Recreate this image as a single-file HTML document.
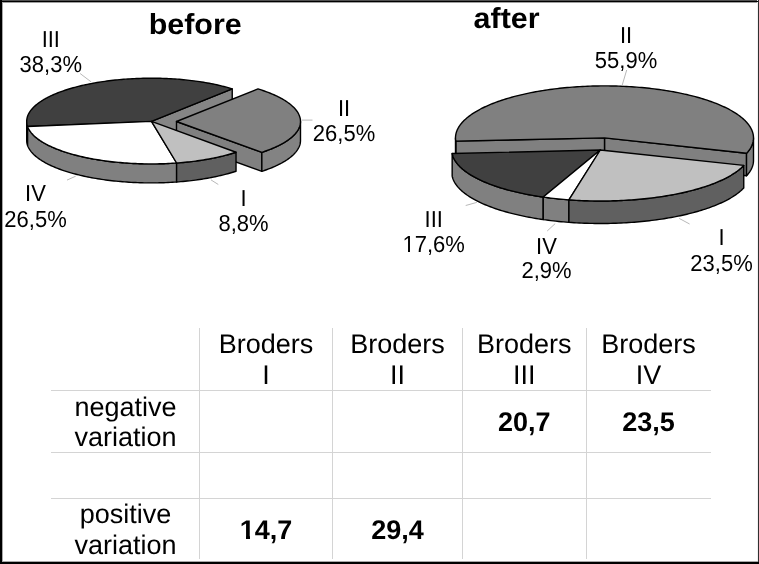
<!DOCTYPE html>
<html><head><meta charset="utf-8"><style>
html,body{margin:0;padding:0;background:#fff;}
body{width:759px;height:564px;overflow:hidden;position:relative;}
svg{position:absolute;left:0;top:0;filter:grayscale(1);}
text{font-family:"Liberation Sans",sans-serif;text-anchor:middle;fill:#000;text-rendering:geometricPrecision;}
.lb{font-size:22px;}
.tt{font-size:29px;font-weight:bold;}
.tb{font-size:27px;}
.tv{font-size:27px;font-weight:bold;}
.bd{position:absolute;background:#000;}
</style></head><body>
<svg width="759" height="564" viewBox="0 0 759 564">
<polygon points="151.50,121.40 232.23,88.85 232.23,107.85 151.50,140.40" fill="#858585" stroke="#000" stroke-width="1.4" stroke-linejoin="round"/>
<polygon points="26.70,121.40 26.73,122.25 26.80,123.11 26.93,123.96 27.10,124.81 27.33,125.66 27.60,126.51 27.60,145.51 27.33,144.66 27.10,143.81 26.93,142.96 26.80,142.11 26.73,141.25 26.70,140.40" fill="#808080" stroke="#000" stroke-width="1.4" stroke-linejoin="round"/>
<polygon points="151.50,121.40 232.23,88.85 230.60,88.36 228.95,87.87 227.27,87.40 225.57,86.94 223.85,86.49 222.11,86.06 220.35,85.63 218.56,85.21 216.76,84.80 214.93,84.41 213.09,84.03 211.22,83.65 209.34,83.29 207.44,82.94 205.52,82.61 203.59,82.28 201.64,81.97 199.68,81.66 197.70,81.37 195.71,81.10 193.70,80.83 191.68,80.58 189.65,80.34 187.61,80.11 185.55,79.89 183.49,79.69 181.42,79.50 179.33,79.32 177.24,79.16 175.14,79.01 173.04,78.87 170.92,78.74 168.80,78.63 166.68,78.53 164.55,78.44 162.42,78.37 160.28,78.31 158.14,78.26 156.00,78.23 153.86,78.21 151.71,78.20 149.54,78.21 147.36,78.22 145.19,78.26 143.01,78.30 140.84,78.36 138.67,78.43 136.51,78.51 134.35,78.61 132.19,78.72 130.04,78.84 127.90,78.98 125.77,79.13 123.64,79.29 121.52,79.47 119.41,79.65 117.31,79.85 115.22,80.07 113.14,80.29 111.08,80.53 109.02,80.78 106.98,81.04 104.95,81.32 102.94,81.60 100.94,81.90 98.95,82.22 96.99,82.54 95.04,82.87 93.10,83.22 91.19,83.58 89.29,83.95 87.41,84.33 85.55,84.72 83.71,85.13 81.89,85.54 80.10,85.97 78.32,86.41 76.57,86.85 74.84,87.31 73.13,87.78 71.45,88.26 69.79,88.75 68.15,89.25 66.55,89.75 64.96,90.27 63.41,90.80 61.88,91.34 60.38,91.88 58.90,92.44 57.46,93.00 56.04,93.57 54.65,94.15 53.29,94.74 51.96,95.34 50.66,95.95 49.39,96.56 48.16,97.18 46.95,97.81 45.78,98.44 44.64,99.09 43.53,99.73 42.45,100.39 41.41,101.05 40.40,101.72 39.43,102.39 38.49,103.07 37.58,103.76 36.71,104.45 35.87,105.15 35.07,105.85 34.30,106.55 33.57,107.26 32.88,107.98 32.22,108.70 31.59,109.42 31.01,110.15 30.46,110.88 29.95,111.61 29.47,112.34 29.03,113.08 28.63,113.82 28.27,114.57 27.95,115.31 27.66,116.06 27.41,116.81 27.19,117.56 27.02,118.31 26.88,119.06 26.78,119.82 26.72,120.57 26.70,121.32 26.72,122.07 26.77,122.81 26.86,123.55 26.99,124.29 27.16,125.03 27.36,125.77 27.60,126.51" fill="#404040" stroke="#000" stroke-width="1.4" stroke-linejoin="round"/>
<polygon points="176.50,121.50 261.86,152.33 261.86,171.33 176.50,140.50" fill="#808080" stroke="#000" stroke-width="1.4" stroke-linejoin="round"/>
<polygon points="261.86,152.33 263.43,151.81 264.98,151.28 266.49,150.74 267.99,150.19 269.45,149.63 270.88,149.06 272.29,148.49 273.66,147.91 275.00,147.31 276.32,146.72 277.60,146.11 278.85,145.49 280.07,144.87 281.26,144.24 282.41,143.60 283.53,142.96 284.62,142.31 285.67,141.65 286.70,140.99 287.68,140.32 288.63,139.64 289.55,138.96 290.43,138.28 291.28,137.59 292.09,136.89 292.86,136.19 293.60,135.48 294.30,134.77 294.96,134.06 295.59,133.34 296.18,132.62 296.74,131.89 297.25,131.16 297.73,130.43 298.17,129.70 298.58,128.96 298.94,128.22 299.27,127.48 299.56,126.74 299.81,125.99 300.02,125.24 300.19,124.50 300.33,123.75 300.42,123.00 300.48,122.25 300.50,121.50 300.50,140.50 300.48,141.25 300.42,142.00 300.33,142.75 300.19,143.50 300.02,144.24 299.81,144.99 299.56,145.74 299.27,146.48 298.94,147.22 298.58,147.96 298.17,148.70 297.73,149.43 297.25,150.16 296.74,150.89 296.18,151.62 295.59,152.34 294.96,153.06 294.30,153.77 293.60,154.48 292.86,155.19 292.09,155.89 291.28,156.59 290.43,157.28 289.55,157.96 288.63,158.64 287.68,159.32 286.70,159.99 285.67,160.65 284.62,161.31 283.53,161.96 282.41,162.60 281.26,163.24 280.07,163.87 278.85,164.49 277.60,165.11 276.32,165.72 275.00,166.31 273.66,166.91 272.29,167.49 270.88,168.06 269.45,168.63 267.99,169.19 266.49,169.74 264.98,170.28 263.43,170.81 261.86,171.33" fill="#838383" stroke="#000" stroke-width="1.4" stroke-linejoin="round"/>
<polygon points="176.50,121.50 261.86,152.33 263.42,151.81 264.96,151.28 266.47,150.75 267.95,150.20 269.40,149.65 270.83,149.09 272.22,148.52 273.59,147.94 274.93,147.35 276.23,146.75 277.51,146.15 278.75,145.54 279.97,144.92 281.15,144.30 282.30,143.67 283.42,143.03 284.50,142.38 285.55,141.73 286.57,141.07 287.55,140.41 288.50,139.74 289.42,139.06 290.30,138.38 291.14,137.69 291.96,137.00 292.73,136.31 293.47,135.61 294.17,134.90 294.84,134.19 295.47,133.48 296.07,132.76 296.62,132.04 297.14,131.32 297.63,130.59 298.07,129.87 298.48,129.13 298.85,128.40 299.19,127.66 299.49,126.93 299.74,126.19 299.96,125.45 300.15,124.70 300.29,123.96 300.40,123.22 300.47,122.47 300.50,121.73 300.49,120.97 300.45,120.22 300.36,119.46 300.24,118.70 300.08,117.95 299.88,117.20 299.65,116.44 299.37,115.69 299.06,114.94 298.71,114.19 298.33,113.45 297.90,112.71 297.44,111.97 296.95,111.23 296.41,110.50 295.84,109.77 295.23,109.04 294.58,108.32 293.90,107.60 293.19,106.88 292.43,106.17 291.64,105.47 290.82,104.77 289.96,104.07 289.07,103.38 288.14,102.70 287.17,102.02 286.18,101.34 285.15,100.68 284.08,100.02 282.98,99.36 281.85,98.72 280.69,98.08 279.50,97.44 278.27,96.82 277.01,96.20 275.73,95.59 274.41,94.99 273.06,94.40 271.68,93.81 270.27,93.23 268.84,92.67 267.37,92.11 265.88,91.56 264.36,91.02 262.81,90.48 261.24,89.96 259.64,89.45 258.01,88.95" fill="#808080" stroke="#000" stroke-width="1.4" stroke-linejoin="round"/>
<polygon points="27.60,126.51 27.89,127.25 28.21,127.99 28.57,128.73 28.97,129.46 29.40,130.20 29.88,130.93 30.39,131.66 30.94,132.38 31.53,133.10 32.15,133.82 32.81,134.54 33.51,135.25 34.24,135.95 35.02,136.65 35.82,137.35 36.67,138.04 37.55,138.73 38.46,139.41 39.41,140.09 40.39,140.76 41.41,141.42 42.46,142.08 43.55,142.73 44.67,143.37 45.82,144.01 47.01,144.64 48.23,145.26 49.48,145.88 50.76,146.49 52.08,147.09 53.42,147.68 54.80,148.26 56.20,148.84 57.64,149.41 59.10,149.97 60.59,150.52 62.11,151.06 63.66,151.59 65.24,152.11 66.84,152.63 68.47,153.13 70.12,153.62 71.80,154.11 73.51,154.58 75.23,155.04 76.99,155.49 78.76,155.94 80.56,156.37 82.38,156.79 84.22,157.20 86.08,157.59 87.97,157.98 89.87,158.36 91.79,158.72 93.73,159.07 95.69,159.41 97.67,159.74 99.66,160.06 101.67,160.36 103.69,160.66 105.73,160.94 107.78,161.21 109.85,161.46 111.93,161.71 114.02,161.94 116.12,162.16 118.24,162.36 120.36,162.56 122.49,162.74 124.64,162.90 126.79,163.06 128.95,163.20 131.11,163.33 133.29,163.44 135.47,163.55 137.65,163.64 139.84,163.71 142.03,163.78 144.22,163.83 146.42,163.86 148.62,163.89 150.81,163.90 152.99,163.90 155.15,163.88 157.31,163.85 159.47,163.81 161.63,163.76 163.79,163.69 165.94,163.61 168.08,163.51 170.23,163.40 172.36,163.28 174.49,163.15 176.61,163.00 176.61,182.00 174.49,182.15 172.36,182.28 170.23,182.40 168.08,182.51 165.94,182.61 163.79,182.69 161.63,182.76 159.47,182.81 157.31,182.85 155.15,182.88 152.99,182.90 150.81,182.90 148.62,182.89 146.42,182.86 144.22,182.83 142.03,182.78 139.84,182.71 137.65,182.64 135.47,182.55 133.29,182.44 131.11,182.33 128.95,182.20 126.79,182.06 124.64,181.90 122.49,181.74 120.36,181.56 118.24,181.36 116.12,181.16 114.02,180.94 111.93,180.71 109.85,180.46 107.78,180.21 105.73,179.94 103.69,179.66 101.67,179.36 99.66,179.06 97.67,178.74 95.69,178.41 93.73,178.07 91.79,177.72 89.87,177.36 87.97,176.98 86.08,176.59 84.22,176.20 82.38,175.79 80.56,175.37 78.76,174.94 76.99,174.49 75.23,174.04 73.51,173.58 71.80,173.11 70.12,172.62 68.47,172.13 66.84,171.63 65.24,171.11 63.66,170.59 62.11,170.06 60.59,169.52 59.10,168.97 57.64,168.41 56.20,167.84 54.80,167.26 53.42,166.68 52.08,166.09 50.76,165.49 49.48,164.88 48.23,164.26 47.01,163.64 45.82,163.01 44.67,162.37 43.55,161.73 42.46,161.08 41.41,160.42 40.39,159.76 39.41,159.09 38.46,158.41 37.55,157.73 36.67,157.04 35.82,156.35 35.02,155.65 34.24,154.95 33.51,154.25 32.81,153.54 32.15,152.82 31.53,152.10 30.94,151.38 30.39,150.66 29.88,149.93 29.40,149.20 28.97,148.46 28.57,147.73 28.21,146.99 27.89,146.25 27.60,145.51" fill="#808080" stroke="#000" stroke-width="1.4" stroke-linejoin="round"/>
<polygon points="151.50,121.40 27.60,126.51 27.89,127.25 28.21,127.99 28.57,128.73 28.97,129.46 29.40,130.20 29.88,130.93 30.39,131.66 30.94,132.38 31.53,133.10 32.15,133.82 32.81,134.54 33.51,135.25 34.24,135.95 35.02,136.65 35.82,137.35 36.67,138.04 37.55,138.73 38.46,139.41 39.41,140.09 40.39,140.76 41.41,141.42 42.46,142.08 43.55,142.73 44.67,143.37 45.82,144.01 47.01,144.64 48.23,145.26 49.48,145.88 50.76,146.49 52.08,147.09 53.42,147.68 54.80,148.26 56.20,148.84 57.64,149.41 59.10,149.97 60.59,150.52 62.11,151.06 63.66,151.59 65.24,152.11 66.84,152.63 68.47,153.13 70.12,153.62 71.80,154.11 73.51,154.58 75.23,155.04 76.99,155.49 78.76,155.94 80.56,156.37 82.38,156.79 84.22,157.20 86.08,157.59 87.97,157.98 89.87,158.36 91.79,158.72 93.73,159.07 95.69,159.41 97.67,159.74 99.66,160.06 101.67,160.36 103.69,160.66 105.73,160.94 107.78,161.21 109.85,161.46 111.93,161.71 114.02,161.94 116.12,162.16 118.24,162.36 120.36,162.56 122.49,162.74 124.64,162.90 126.79,163.06 128.95,163.20 131.11,163.33 133.29,163.44 135.47,163.55 137.65,163.64 139.84,163.71 142.03,163.78 144.22,163.83 146.42,163.86 148.62,163.89 150.81,163.90 152.99,163.90 155.15,163.88 157.31,163.85 159.47,163.81 161.63,163.76 163.79,163.69 165.94,163.61 168.08,163.51 170.23,163.40 172.36,163.28 174.49,163.15 176.61,163.00" fill="#ffffff" stroke="#000" stroke-width="1.4" stroke-linejoin="round"/>
<polygon points="176.61,163.00 178.75,162.84 180.89,162.67 183.01,162.48 185.12,162.28 187.22,162.06 189.32,161.83 191.39,161.59 193.46,161.34 195.51,161.08 197.55,160.80 199.58,160.51 201.59,160.20 203.58,159.89 205.56,159.56 207.51,159.22 209.46,158.87 211.38,158.51 213.28,158.13 215.17,157.74 217.03,157.34 218.87,156.93 220.70,156.51 222.49,156.08 224.27,155.63 226.03,155.18 227.76,154.71 229.46,154.24 231.14,153.75 232.80,153.25 234.43,152.75 236.03,152.23 236.03,171.23 234.43,171.75 232.80,172.25 231.14,172.75 229.46,173.24 227.76,173.71 226.03,174.18 224.27,174.63 222.49,175.08 220.70,175.51 218.87,175.93 217.03,176.34 215.17,176.74 213.28,177.13 211.38,177.51 209.46,177.87 207.51,178.22 205.56,178.56 203.58,178.89 201.59,179.20 199.58,179.51 197.55,179.80 195.51,180.08 193.46,180.34 191.39,180.59 189.32,180.83 187.22,181.06 185.12,181.28 183.01,181.48 180.89,181.67 178.75,181.84 176.61,182.00" fill="#606060" stroke="#000" stroke-width="1.4" stroke-linejoin="round"/>
<polygon points="151.50,121.40 176.61,163.00 178.75,162.84 180.89,162.67 183.01,162.48 185.12,162.28 187.22,162.06 189.32,161.83 191.39,161.59 193.46,161.34 195.51,161.08 197.55,160.80 199.58,160.51 201.59,160.20 203.58,159.89 205.56,159.56 207.51,159.22 209.46,158.87 211.38,158.51 213.28,158.13 215.17,157.74 217.03,157.34 218.87,156.93 220.70,156.51 222.49,156.08 224.27,155.63 226.03,155.18 227.76,154.71 229.46,154.24 231.14,153.75 232.80,153.25 234.43,152.75 236.03,152.23" fill="#c0c0c0" stroke="#000" stroke-width="1.4" stroke-linejoin="round"/>
<polygon points="604.50,137.90 746.53,153.32 746.53,175.82 604.50,160.40" fill="#808080" stroke="#000" stroke-width="1.4" stroke-linejoin="round"/>
<polygon points="604.50,137.90 455.79,141.10 455.79,163.60 604.50,160.40" fill="#808080" stroke="#000" stroke-width="1.4" stroke-linejoin="round"/>
<polygon points="746.53,153.32 747.32,152.44 748.06,151.55 748.76,150.66 749.41,149.77 750.01,148.87 750.57,147.97 751.07,147.07 751.53,146.16 751.95,145.25 752.31,144.33 752.63,143.42 752.89,142.50 753.11,141.58 753.28,140.66 753.40,139.74 753.48,138.82 753.50,137.90 753.50,160.40 753.48,161.32 753.40,162.24 753.28,163.16 753.11,164.08 752.89,165.00 752.63,165.92 752.31,166.83 751.95,167.75 751.53,168.66 751.07,169.57 750.57,170.47 750.01,171.37 749.41,172.27 748.76,173.16 748.06,174.05 747.32,174.94 746.53,175.82" fill="#808080" stroke="#000" stroke-width="1.4" stroke-linejoin="round"/>
<polygon points="455.50,137.90 455.53,138.97 455.63,140.04 455.79,141.10 455.79,163.60 455.63,162.54 455.53,161.47 455.50,160.40" fill="#808080" stroke="#000" stroke-width="1.4" stroke-linejoin="round"/>
<polygon points="604.50,137.90 746.53,153.32 747.29,152.47 748.01,151.61 748.69,150.75 749.32,149.89 749.91,149.02 750.46,148.15 750.96,147.28 751.42,146.40 751.83,145.52 752.19,144.64 752.52,143.75 752.79,142.87 753.02,141.98 753.21,141.09 753.35,140.20 753.44,139.31 753.49,138.42 753.50,137.52 753.45,136.61 753.37,135.70 753.23,134.80 753.06,133.89 752.83,132.99 752.56,132.08 752.25,131.18 751.89,130.28 751.49,129.38 751.04,128.49 750.55,127.60 750.01,126.71 749.42,125.82 748.80,124.94 748.13,124.06 747.41,123.19 746.65,122.32 745.85,121.46 745.01,120.60 744.12,119.74 743.19,118.89 742.22,118.05 741.20,117.21 740.15,116.38 739.05,115.56 737.91,114.74 736.73,113.93 735.51,113.13 734.25,112.34 732.95,111.55 731.61,110.77 730.24,110.00 728.82,109.24 727.37,108.48 725.87,107.74 724.35,107.00 722.78,106.28 721.18,105.56 719.54,104.85 717.87,104.16 716.17,103.47 714.43,102.80 712.65,102.13 710.84,101.48 709.00,100.83 707.13,100.20 705.23,99.58 703.30,98.97 701.33,98.38 699.34,97.79 697.32,97.22 695.27,96.66 693.19,96.12 691.08,95.58 688.95,95.06 686.80,94.55 684.61,94.06 682.41,93.57 680.18,93.11 677.92,92.65 675.65,92.21 673.35,91.78 671.03,91.37 668.69,90.97 666.33,90.59 663.95,90.22 661.56,89.86 659.14,89.52 656.71,89.20 654.27,88.89 651.81,88.59 649.33,88.31 646.84,88.04 644.34,87.79 641.83,87.56 639.30,87.34 636.76,87.13 634.22,86.94 631.66,86.77 629.10,86.61 626.53,86.47 623.95,86.34 621.37,86.23 618.78,86.14 616.18,86.06 613.59,86.00 610.99,85.95 608.39,85.92 605.78,85.90 603.18,85.90 600.58,85.92 597.98,85.95 595.38,86.00 592.78,86.06 590.19,86.14 587.60,86.24 585.01,86.35 582.44,86.47 579.87,86.62 577.30,86.77 574.75,86.95 572.20,87.14 569.67,87.34 567.14,87.56 564.63,87.80 562.12,88.05 559.63,88.31 557.16,88.59 554.70,88.89 552.25,89.20 549.82,89.53 547.41,89.87 545.01,90.22 542.64,90.59 540.28,90.98 537.94,91.38 535.62,91.79 533.32,92.22 531.05,92.66 528.79,93.11 526.56,93.58 524.36,94.06 522.17,94.56 520.02,95.07 517.89,95.59 515.78,96.12 513.70,96.67 511.65,97.23 509.63,97.80 507.64,98.39 505.68,98.98 503.74,99.59 501.84,100.21 499.97,100.84 498.13,101.49 496.32,102.14 494.55,102.81 492.81,103.48 491.10,104.17 489.43,104.86 487.80,105.57 486.20,106.29 484.63,107.01 483.10,107.75 481.61,108.49 480.16,109.25 478.75,110.01 477.37,110.78 476.03,111.56 474.73,112.35 473.47,113.14 472.25,113.94 471.07,114.75 469.94,115.57 468.84,116.40 467.78,117.23 466.77,118.06 465.80,118.91 464.87,119.75 463.98,120.61 463.14,121.47 462.33,122.33 461.58,123.20 460.86,124.07 460.19,124.95 459.57,125.83 458.98,126.72 458.45,127.61 457.95,128.50 457.51,129.40 457.10,130.29 456.74,131.19 456.43,132.09 456.16,133.00 455.94,133.90 455.76,134.81 455.63,135.72 455.54,136.63 455.50,137.53 455.51,138.43 455.56,139.32 455.65,140.21 455.79,141.10" fill="#808080" stroke="#000" stroke-width="1.4" stroke-linejoin="round"/>
<polygon points="452.16,153.56 452.37,154.45 452.62,155.34 452.91,156.23 453.25,157.12 453.64,158.01 454.07,158.89 454.55,159.77 455.07,160.65 455.64,161.52 456.25,162.39 456.91,163.26 457.61,164.12 458.35,164.98 459.14,165.84 459.97,166.68 460.85,167.53 461.76,168.37 462.72,169.20 463.73,170.03 464.77,170.85 465.86,171.66 466.99,172.47 468.16,173.27 469.37,174.06 470.62,174.85 471.91,175.63 473.24,176.40 474.61,177.16 476.02,177.91 477.46,178.66 478.95,179.40 480.47,180.12 482.03,180.84 483.63,181.55 485.26,182.25 486.92,182.94 488.63,183.62 490.36,184.28 492.13,184.94 493.94,185.59 495.77,186.23 497.64,186.85 499.54,187.46 501.47,188.07 503.44,188.66 505.43,189.23 507.45,189.80 509.50,190.35 511.58,190.90 513.68,191.43 515.81,191.94 517.97,192.44 520.15,192.93 522.36,193.41 524.59,193.87 526.85,194.32 529.13,194.76 531.43,195.18 533.75,195.59 536.09,195.99 538.45,196.37 540.83,196.73 543.23,197.08 543.23,219.58 540.83,219.23 538.45,218.87 536.09,218.49 533.75,218.09 531.43,217.68 529.13,217.26 526.85,216.82 524.59,216.37 522.36,215.91 520.15,215.43 517.97,214.94 515.81,214.44 513.68,213.93 511.58,213.40 509.50,212.85 507.45,212.30 505.43,211.73 503.44,211.16 501.47,210.57 499.54,209.96 497.64,209.35 495.77,208.73 493.94,208.09 492.13,207.44 490.36,206.78 488.63,206.12 486.92,205.44 485.26,204.75 483.63,204.05 482.03,203.34 480.47,202.62 478.95,201.90 477.46,201.16 476.02,200.41 474.61,199.66 473.24,198.90 471.91,198.13 470.62,197.35 469.37,196.56 468.16,195.77 466.99,194.97 465.86,194.16 464.77,193.35 463.73,192.53 462.72,191.70 461.76,190.87 460.85,190.03 459.97,189.18 459.14,188.34 458.35,187.48 457.61,186.62 456.91,185.76 456.25,184.89 455.64,184.02 455.07,183.15 454.55,182.27 454.07,181.39 453.64,180.51 453.25,179.62 452.91,178.73 452.62,177.84 452.37,176.95 452.16,176.06" fill="#808080" stroke="#000" stroke-width="1.4" stroke-linejoin="round"/>
<polygon points="600.30,150.00 452.16,153.56 452.37,154.45 452.62,155.34 452.91,156.23 453.25,157.12 453.64,158.01 454.07,158.89 454.55,159.77 455.07,160.65 455.64,161.52 456.25,162.39 456.91,163.26 457.61,164.12 458.35,164.98 459.14,165.84 459.97,166.68 460.85,167.53 461.76,168.37 462.72,169.20 463.73,170.03 464.77,170.85 465.86,171.66 466.99,172.47 468.16,173.27 469.37,174.06 470.62,174.85 471.91,175.63 473.24,176.40 474.61,177.16 476.02,177.91 477.46,178.66 478.95,179.40 480.47,180.12 482.03,180.84 483.63,181.55 485.26,182.25 486.92,182.94 488.63,183.62 490.36,184.28 492.13,184.94 493.94,185.59 495.77,186.23 497.64,186.85 499.54,187.46 501.47,188.07 503.44,188.66 505.43,189.23 507.45,189.80 509.50,190.35 511.58,190.90 513.68,191.43 515.81,191.94 517.97,192.44 520.15,192.93 522.36,193.41 524.59,193.87 526.85,194.32 529.13,194.76 531.43,195.18 533.75,195.59 536.09,195.99 538.45,196.37 540.83,196.73 543.23,197.08" fill="#404040" stroke="#000" stroke-width="1.4" stroke-linejoin="round"/>
<polygon points="543.23,197.08 545.73,197.43 548.25,197.76 550.78,198.08 553.33,198.38 555.89,198.67 558.47,198.94 561.06,199.19 563.67,199.42 566.29,199.64 568.92,199.85 568.92,222.35 566.29,222.14 563.67,221.92 561.06,221.69 558.47,221.44 555.89,221.17 553.33,220.88 550.78,220.58 548.25,220.26 545.73,219.93 543.23,219.58" fill="#808080" stroke="#000" stroke-width="1.4" stroke-linejoin="round"/>
<polygon points="600.30,150.00 543.23,197.08 545.73,197.43 548.25,197.76 550.78,198.08 553.33,198.38 555.89,198.67 558.47,198.94 561.06,199.19 563.67,199.42 566.29,199.64 568.92,199.85" fill="#ffffff" stroke="#000" stroke-width="1.4" stroke-linejoin="round"/>
<polygon points="568.92,199.85 571.47,200.03 574.04,200.20 576.61,200.35 579.19,200.48 581.78,200.60 584.37,200.71 586.97,200.79 589.57,200.87 592.18,200.92 594.78,200.96 597.39,200.99 600.00,201.00 602.65,200.99 605.29,200.97 607.93,200.93 610.57,200.88 613.21,200.81 615.84,200.73 618.47,200.63 621.10,200.51 623.71,200.38 626.32,200.23 628.92,200.07 631.52,199.89 634.10,199.70 636.67,199.49 639.23,199.26 641.78,199.02 644.32,198.77 646.84,198.50 649.35,198.22 651.84,197.92 654.32,197.60 656.78,197.27 659.23,196.93 661.65,196.57 664.06,196.20 666.44,195.81 668.81,195.41 671.15,194.99 673.48,194.57 675.78,194.12 678.05,193.67 680.31,193.20 682.54,192.71 684.74,192.22 686.92,191.71 689.06,191.18 691.19,190.65 693.28,190.10 695.35,189.54 697.38,188.97 699.39,188.39 701.37,187.79 703.31,187.18 705.22,186.56 707.10,185.93 708.95,185.29 710.76,184.64 712.54,183.97 714.29,183.30 716.00,182.62 717.67,181.92 719.31,181.22 720.91,180.50 722.47,179.78 724.00,179.05 725.49,178.31 726.94,177.56 728.35,176.80 729.72,176.03 731.05,175.26 732.34,174.47 733.59,173.68 734.79,172.89 735.96,172.08 737.09,171.27 738.17,170.45 739.21,169.63 740.20,168.80 741.16,167.96 742.07,167.12 742.93,166.27 743.76,165.42 743.76,187.92 742.93,188.77 742.07,189.62 741.16,190.46 740.20,191.30 739.21,192.13 738.17,192.95 737.09,193.77 735.96,194.58 734.79,195.39 733.59,196.18 732.34,196.97 731.05,197.76 729.72,198.53 728.35,199.30 726.94,200.06 725.49,200.81 724.00,201.55 722.47,202.28 720.91,203.00 719.31,203.72 717.67,204.42 716.00,205.12 714.29,205.80 712.54,206.47 710.76,207.14 708.95,207.79 707.10,208.43 705.22,209.06 703.31,209.68 701.37,210.29 699.39,210.89 697.38,211.47 695.35,212.04 693.28,212.60 691.19,213.15 689.06,213.68 686.92,214.21 684.74,214.72 682.54,215.21 680.31,215.70 678.05,216.17 675.78,216.62 673.48,217.07 671.15,217.49 668.81,217.91 666.44,218.31 664.06,218.70 661.65,219.07 659.23,219.43 656.78,219.77 654.32,220.10 651.84,220.42 649.35,220.72 646.84,221.00 644.32,221.27 641.78,221.52 639.23,221.76 636.67,221.99 634.10,222.20 631.52,222.39 628.92,222.57 626.32,222.73 623.71,222.88 621.10,223.01 618.47,223.13 615.84,223.23 613.21,223.31 610.57,223.38 607.93,223.43 605.29,223.47 602.65,223.49 600.00,223.50 597.39,223.49 594.78,223.46 592.18,223.42 589.57,223.37 586.97,223.29 584.37,223.21 581.78,223.10 579.19,222.98 576.61,222.85 574.04,222.70 571.47,222.53 568.92,222.35" fill="#606060" stroke="#000" stroke-width="1.4" stroke-linejoin="round"/>
<polygon points="600.30,150.00 568.92,199.85 571.47,200.03 574.04,200.20 576.61,200.35 579.19,200.48 581.78,200.60 584.37,200.71 586.97,200.79 589.57,200.87 592.18,200.92 594.78,200.96 597.39,200.99 600.00,201.00 602.65,200.99 605.29,200.97 607.93,200.93 610.57,200.88 613.21,200.81 615.84,200.73 618.47,200.63 621.10,200.51 623.71,200.38 626.32,200.23 628.92,200.07 631.52,199.89 634.10,199.70 636.67,199.49 639.23,199.26 641.78,199.02 644.32,198.77 646.84,198.50 649.35,198.22 651.84,197.92 654.32,197.60 656.78,197.27 659.23,196.93 661.65,196.57 664.06,196.20 666.44,195.81 668.81,195.41 671.15,194.99 673.48,194.57 675.78,194.12 678.05,193.67 680.31,193.20 682.54,192.71 684.74,192.22 686.92,191.71 689.06,191.18 691.19,190.65 693.28,190.10 695.35,189.54 697.38,188.97 699.39,188.39 701.37,187.79 703.31,187.18 705.22,186.56 707.10,185.93 708.95,185.29 710.76,184.64 712.54,183.97 714.29,183.30 716.00,182.62 717.67,181.92 719.31,181.22 720.91,180.50 722.47,179.78 724.00,179.05 725.49,178.31 726.94,177.56 728.35,176.80 729.72,176.03 731.05,175.26 732.34,174.47 733.59,173.68 734.79,172.89 735.96,172.08 737.09,171.27 738.17,170.45 739.21,169.63 740.20,168.80 741.16,167.96 742.07,167.12 742.93,166.27 743.76,165.42" fill="#c0c0c0" stroke="#000" stroke-width="1.4" stroke-linejoin="round"/>
<line x1="80.1" y1="73.5" x2="91.3" y2="82.0" stroke="#b8b8b8" stroke-width="1"/>
<line x1="301.6" y1="120.1" x2="312.5" y2="120.1" stroke="#b8b8b8" stroke-width="1"/>
<line x1="67.0" y1="180.1" x2="75.7" y2="176.2" stroke="#b8b8b8" stroke-width="1"/>
<line x1="211.0" y1="179.9" x2="218.3" y2="184.5" stroke="#b8b8b8" stroke-width="1"/>
<line x1="626.7" y1="70.0" x2="622.0" y2="85.8" stroke="#b8b8b8" stroke-width="1"/>
<line x1="465.7" y1="205.5" x2="476.8" y2="202.4" stroke="#b8b8b8" stroke-width="1"/>
<line x1="547.2" y1="231.0" x2="555.2" y2="223.6" stroke="#b8b8b8" stroke-width="1"/>
<line x1="679.2" y1="218.4" x2="689.6" y2="224.0" stroke="#b8b8b8" stroke-width="1"/>
<text transform="translate(50.80,47.20) scale(1.000,1.050)" class="lb">III</text>
<text transform="translate(50.80,72.10) scale(1.000,1.050)" class="lb">38,3%</text>
<text transform="translate(344.00,115.70) scale(1.000,1.050)" class="lb">II</text>
<text transform="translate(344.00,140.80) scale(1.000,1.050)" class="lb">26,5%</text>
<text transform="translate(35.50,201.20) scale(1.000,1.050)" class="lb">IV</text>
<text transform="translate(35.50,226.60) scale(1.000,1.050)" class="lb">26,5%</text>
<text transform="translate(243.50,205.70) scale(1.000,1.050)" class="lb">I</text>
<text transform="translate(243.50,230.80) scale(1.000,1.050)" class="lb">8,8%</text>
<text transform="translate(626.00,42.50) scale(1.000,1.050)" class="lb">II</text>
<text transform="translate(626.00,67.90) scale(1.000,1.050)" class="lb">55,9%</text>
<text transform="translate(433.70,226.50) scale(1.000,1.050)" class="lb">III</text>
<text transform="translate(433.70,251.60) scale(1.000,1.050)" class="lb">17,6%</text>
<text transform="translate(546.50,253.70) scale(1.000,1.050)" class="lb">IV</text>
<text transform="translate(546.50,278.30) scale(1.000,1.050)" class="lb">2,9%</text>
<text transform="translate(721.50,245.20) scale(1.000,1.050)" class="lb">I</text>
<text transform="translate(721.50,270.60) scale(1.000,1.050)" class="lb">23,5%</text>
<text transform="translate(195.20,34.20) scale(1.050,1.000)" class="tt">before</text>
<text transform="translate(506.60,28.30) scale(1.050,1.000)" class="tt">after</text>
<line x1="51" y1="390.5" x2="711" y2="390.5" stroke="#d4d4d4" stroke-width="1"/>
<line x1="51" y1="452.5" x2="711" y2="452.5" stroke="#d4d4d4" stroke-width="1"/>
<line x1="51" y1="498.5" x2="711" y2="498.5" stroke="#d4d4d4" stroke-width="1"/>
<line x1="199.5" y1="328" x2="199.5" y2="559" stroke="#d4d4d4" stroke-width="1"/>
<line x1="332.5" y1="328" x2="332.5" y2="559" stroke="#d4d4d4" stroke-width="1"/>
<line x1="462.5" y1="328" x2="462.5" y2="559" stroke="#d4d4d4" stroke-width="1"/>
<line x1="586.5" y1="328" x2="586.5" y2="559" stroke="#d4d4d4" stroke-width="1"/>
<text x="266.0" y="352.7" class="tb">Broders</text>
<text x="266.0" y="383.5" class="tb">I</text>
<text x="397.5" y="352.7" class="tb">Broders</text>
<text x="397.5" y="383.5" class="tb">II</text>
<text x="524.2" y="352.7" class="tb">Broders</text>
<text x="524.2" y="383.5" class="tb">III</text>
<text x="648.6" y="352.7" class="tb">Broders</text>
<text x="648.6" y="383.5" class="tb">IV</text>
<text x="125.5" y="415.8" class="tb">negative</text>
<text x="125.5" y="446.4" class="tb">variation</text>
<text x="125.5" y="523.3" class="tb">positive</text>
<text x="125.5" y="554.2" class="tb">variation</text>
<text x="524.2" y="431.2" class="tv">20,7</text>
<text x="648.6" y="431.2" class="tv">23,5</text>
<text x="266.0" y="539.1" class="tv">14,7</text>
<text x="397.5" y="539.1" class="tv">29,4</text>
<rect x="240.3" y="535.6" width="5.7" height="3.6" fill="#fff"/>
<rect x="250.0" y="535.6" width="4.3" height="3.6" fill="#fff"/>
<rect x="403.0" y="249.9" width="5.0" height="2.6" fill="#fff"/>
<rect x="410.0" y="249.9" width="4.4" height="2.6" fill="#fff"/>
</svg>
<div class="bd" style="left:0;top:0;width:759px;height:1px;background:#505050"></div>
<div class="bd" style="left:0;top:2px;width:759px;height:1px;background:#a0a0a0"></div>
<div class="bd" style="left:2px;top:2px;width:1px;height:560px;background:#a8a8a8"></div>
<div class="bd" style="left:757px;top:0;width:1px;height:564px;background:#f0f0f0"></div>
<div class="bd" style="left:0;top:561px;width:759px;height:1px;background:#a8a8a8"></div>
<div class="bd" style="left:0;top:1px;width:759px;height:1px"></div>
<div class="bd" style="left:0;top:0;width:2px;height:564px"></div>
<div class="bd" style="left:758px;top:0;width:1px;height:564px;background:#303030"></div>
<div class="bd" style="left:0;top:562px;width:759px;height:2px"></div>
</body></html>
